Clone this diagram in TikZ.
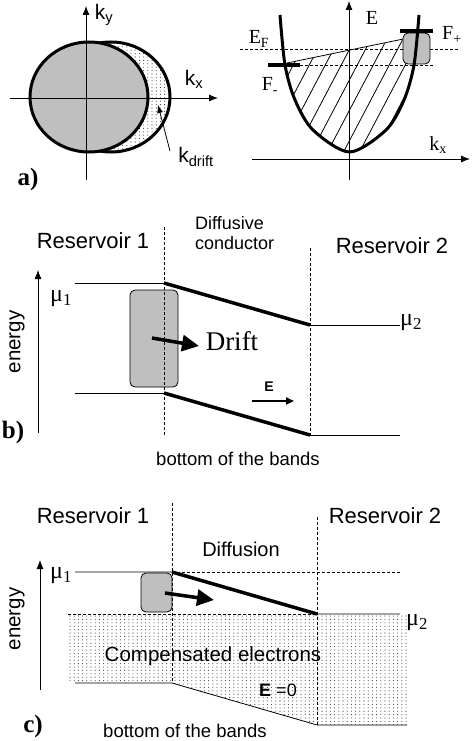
\documentclass[tikz,border=0pt]{standalone}
\usepackage{fontspec}
\setmainfont{Liberation Sans}
\newfontfamily\timesfont{Liberation Serif}
\usetikzlibrary{arrows.meta}
\tikzset{
  thinline/.style={line width=0.8pt},
  bandline/.style={line width=3.5pt},
  guide/.style={line width=0.7pt, dash pattern=on 3pt off 2pt},
  grain/.style={draw, line width=0.8pt, fill=gray!50, rounded corners=5pt},
  axis/.style={line width=0.8pt, -{Latex[length=9pt,width=7pt]}},
  speck/.style={fill=black!75},
  lbl/.style={inner sep=0pt, font=\fontsize{22}{26}\selectfont},
  serlbl/.style={inner sep=0pt, font=\timesfont\fontsize{22}{26}\selectfont},
  tag/.style={inner sep=0pt, font=\timesfont\bfseries\fontsize{25}{28}\selectfont},
}
\begin{document}
\begin{tikzpicture}[x=1pt,y=-1pt]
\useasboundingbox (0,0) rectangle (474,741);

% a) left: shifted Fermi surface
\fill[white] (111,97) ellipse [x radius=59pt, y radius=55pt];
\begin{scope}
\clip (111,97) ellipse [x radius=59pt, y radius=55pt];
\foreach \i in {0,...,30}
  \foreach \j in {0,...,33}
    \fill[speck] (110+\i*4.2,40+\j*3.4) circle[radius=0.55pt];
\end{scope}
\draw[line width=3pt] (111,97) ellipse [x radius=59pt, y radius=55pt];
\draw[line width=3pt, fill=gray!50] (89,97) ellipse [x radius=59pt, y radius=55pt];
\coordinate (kxl0) at (10,98);
\coordinate (kxl1) at (218,98);
\coordinate (kyl0) at (86,180);
\coordinate (kyl1) at (86,6);
\draw[axis] (kxl0) -- (kxl1);
\draw[axis] (kyl0) -- (kyl1);
\node[lbl,font=\fontsize{21}{24}\selectfont] (ky) at (104,15) {k\textsubscript{y}};
\node[lbl,font=\fontsize{21}{24}\selectfont] (kx) at (194,79) {k\textsubscript{x}};
\node[lbl,font=\fontsize{21}{24}\selectfont] (kdrift) at (196,157) {k\textsubscript{drift}};
\coordinate (kdtip) at (158,105);
\coordinate (kdtail) at (170,151);
\draw[thinline,-{Latex[length=8pt,width=6pt]}] (kdtail) -- (kdtip);
\node[tag] (taga) at (28,179) {a)};

% a) right: parabola
\coordinate (Eax0) at (349,180);
\coordinate (Eax1) at (349,1);
\coordinate (kxr0) at (252,159);
\coordinate (kxr1) at (470,159);
\draw[axis] (Eax0) -- (Eax1);
\draw[axis] (kxr0) -- (kxr1);
\draw[guide] (240,49) -- (460,49);
\draw[guide] (300,65) -- (434,65);
\begin{scope}
\clip plot[smooth] coordinates {(280,15) (285,65) (295,100) (313,130) (349.5,152) (386,130) (404,100) (414,65) (419,15)} -- cycle;
\clip (285,63) -- (417,37) -- (480,37) -- (480,200) -- (240,200) -- (240,63) -- cycle;
\foreach \i in {0,...,14}
  \draw[thinline] (190+\i*16,170) -- ++(100,-190);
\end{scope}
\coordinate (Fm) at (287,63);
\coordinate (Fp) at (413,37);
\draw[thinline] (Fm) -- (Fp);
\draw[grain] (403,33) rectangle (430,64);
\draw[line width=3pt] plot[smooth] coordinates {(280,15) (285,65) (295,100) (313,130) (349.5,152) (386,130) (404,100) (414,65) (419,15)};
\draw[line width=4.5pt] (268,65) -- (300,65);
\draw[line width=4.5pt] (400,31) -- (433,31);
\node[serlbl,font=\timesfont\fontsize{20}{24}\selectfont] (Elab) at (372,18) {E};
\node[serlbl,font=\timesfont\fontsize{20}{24}\selectfont] (EF) at (259,39) {E\textsubscript{F}};
\node[serlbl,font=\timesfont\fontsize{20}{24}\selectfont] (Fplus) at (452,35) {F\textsubscript{+}};
\node[serlbl,font=\timesfont\fontsize{20}{24}\selectfont] (Fminus) at (270,86) {F\textsubscript{-}};
\node[serlbl,font=\timesfont\fontsize{20}{24}\selectfont] (kxr) at (438,145) {k\textsubscript{x}};

% b) drift
\node[lbl] (res1b) at (93,241) {Reservoir 1};
\node[lbl] (res2b) at (392,246) {Reservoir 2};
\node[lbl,font=\fontsize{18}{20}\selectfont,align=left,anchor=north west] (diffc) at (195,216) {Diffusive\\conductor};
\coordinate (b1) at (75,283);
\coordinate (b2) at (164,283);
\coordinate (b3) at (310,325);
\coordinate (b4) at (400,325);
\coordinate (b5) at (75,393);
\coordinate (b6) at (164,393);
\coordinate (b7) at (310,435);
\coordinate (b8) at (400,435);
\draw[grain] (130,290) rectangle (178,387);
\draw[guide] (164,227) -- (164,435);
\draw[guide] (310,248) -- (310,437);
\draw[thinline] (b1) -- (b2) (b3) -- (b4) (b5) -- (b6) (b7) -- (b8);
\draw[bandline] (b2) -- (b3) (b6) -- (b7);
\coordinate (enb0) at (38,433);
\coordinate (enb1) at (38,270);
\draw[axis] (enb0) -- (enb1);
\node[lbl,rotate=90,font=\fontsize{20.5}{24}\selectfont] (enlabb) at (17,342) {energy};
\coordinate[label={[serlbl,font=\timesfont\fontsize{24}{28}\selectfont]right:μ\textsubscript{1}}] (mu1b) at (50,299);
\coordinate[label={[serlbl,font=\timesfont\fontsize{24}{28}\selectfont]right:μ\textsubscript{2}}] (mu2b) at (400,323);
\coordinate (drift0) at (152,338);
\coordinate (drift1) at (199,346);
\draw[line width=3.5pt,-{Triangle[length=17pt,width=16pt]}] (drift0) -- (drift1);
\node[serlbl,font=\timesfont\fontsize{27}{30}\selectfont] (driftlab) at (232,341) {Drift};
\coordinate (Eb0) at (252,401);
\coordinate (Eb1) at (294,401);
\draw[line width=1.8pt,-{Triangle[length=8pt,width=7pt]}] (Eb0) -- (Eb1);
\node[lbl,font=\bfseries\fontsize{14}{16}\selectfont] (Eblab) at (269,387) {E};
\node[tag] (tagb) at (13,432) {b)};
\node[lbl,font=\fontsize{18.5}{22}\selectfont] (botb) at (238,459) {bottom of the bands};

% c) diffusion
\node[lbl] (res1c) at (93,516) {Reservoir 1};
\node[lbl] (res2c) at (385,516) {Reservoir 2};
\node[lbl,font=\fontsize{20}{24}\selectfont] (diffn) at (241,549) {Diffusion};
\coordinate (c1) at (75,572);
\coordinate (c2) at (172,572);
\coordinate (c3) at (317,614);
\coordinate (c4) at (400,614);
\coordinate (c5) at (75,683);
\coordinate (c6) at (172,683);
\coordinate (c7) at (317,725);
\coordinate (c8) at (407,725);
\begin{scope}
\clip (68,614) -- (407,614) -- (407,725) -- (c7) -- (c6) -- (68,683) -- cycle;
\foreach \i in {0,...,81}
  \foreach \j in {0,...,32}
    \fill[speck] (70+\i*4.2,616+\j*3.4) circle[radius=0.55pt];
\end{scope}
\draw[guide] (68,614) -- (c3);
\draw[guide] (c2) -- (400,572);
\draw[grain] (141,573) rectangle (172,612);
\draw[guide] (172,503) -- (c6);
\draw[guide] (317,517) -- (c7);
\draw[thinline] (c1) -- (c2) (c3) -- (c4) (c5) -- (c6) -- (c7) -- (c8);
\draw[bandline] (c2) -- (c3);
\coordinate (enc0) at (40,690);
\coordinate (enc1) at (40,560);
\draw[axis] (enc0) -- (enc1);
\node[lbl,rotate=90,font=\fontsize{20.5}{24}\selectfont] (enlabc) at (17,619) {energy};
\coordinate[label={[serlbl,font=\timesfont\fontsize{24}{28}\selectfont]right:μ\textsubscript{1}}] (mu1c) at (50,576);
\coordinate[label={[serlbl,font=\timesfont\fontsize{24}{28}\selectfont]right:μ\textsubscript{2}}] (mu2c) at (406,623);
\coordinate (diff0) at (165,593);
\coordinate (diff1) at (214,600);
\draw[line width=3.5pt,-{Triangle[length=17pt,width=16pt]}] (diff0) -- (diff1);
\node[lbl,font=\fontsize{20.5}{24}\selectfont] (comp) at (213,656) {Compensated electrons};
\node[lbl,font=\fontsize{18}{22}\selectfont] (Ezero) at (278,690) {\textbf{E} =0};
\node[tag] (tagc) at (33,726) {c)};
\node[lbl,font=\fontsize{18.5}{22}\selectfont] (botc) at (185,731) {bottom of the bands};
\end{tikzpicture}
\end{document}
